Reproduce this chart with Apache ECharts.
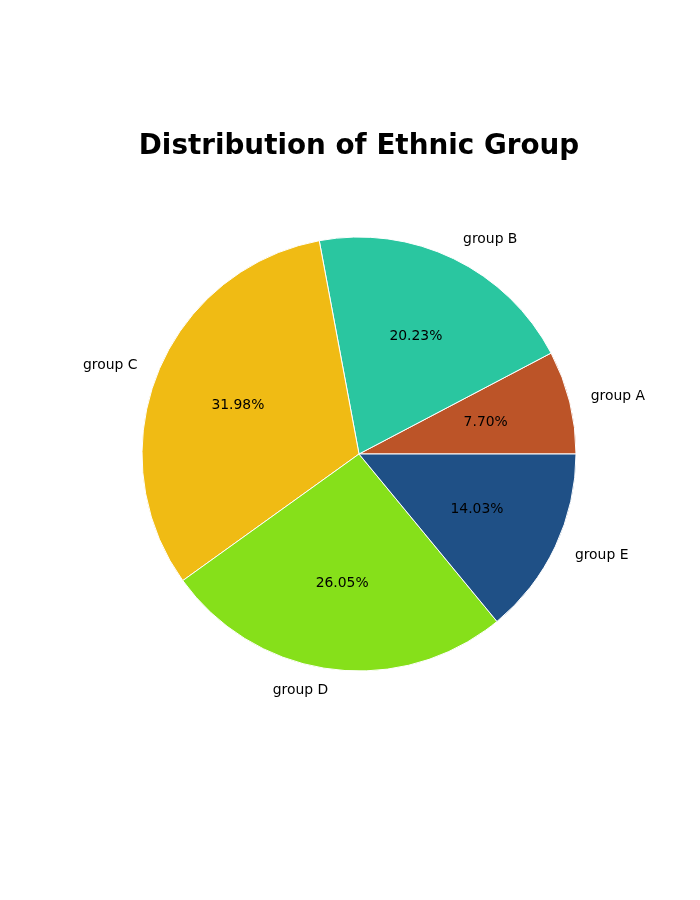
<!DOCTYPE html>
<html>
<head>
<meta charset="utf-8">
<script src="https://cdn.jsdelivr.net/npm/echarts@6/dist/echarts.min.js"></script>
<style>html,body{margin:0;padding:0;background:#fff}#c{width:700px;height:900px}</style>
</head>
<body>
<div id="c"></div>
<script>
const categories = ['group A', 'group B', 'group C', 'group D', 'group E'];
const percentages = [7.70, 20.23, 31.98, 26.05, 14.03];
const colors = ['#BC5428', '#2AC6A0', '#F0BB14', '#86E01A', '#1F5086'];

const R = 217;
const CX = 359, CY = 454;
const FONT = 'DejaVu Sans';

const chart = echarts.init(document.getElementById('c'), null, {renderer: 'canvas'});
const mainData = categories.map((c, i) => ({name: c, value: percentages[i], itemStyle: {color: colors[i]}}));
const pctData = categories.map((c, i) => ({name: c, value: percentages[i]}));

chart.setOption({
  animation: false,
  backgroundColor: '#ffffff',
  title: {
    text: 'Distribution of Ethnic Group',
    left: CX - 5,
    textAlign: 'center',
    top: 128,
    textStyle: {fontFamily: FONT, fontWeight: 'bold', fontSize: 27.8, color: '#000'}
  },
  series: [
    {
      type: 'pie',
      center: [CX, CY],
      radius: [0, R],
      startAngle: 0,
      clockwise: false,
      avoidLabelOverlap: false,
      silent: true,
      itemStyle: {borderColor: '#ffffff', borderWidth: 1},
      label: {
        show: true,
        position: 'outside',
        formatter: '{b}',
        fontFamily: FONT,
        fontSize: 13.9,
        color: '#000',
        distanceToLabelLine: 0
      },
      labelLine: {show: false, length: R * 0.1, length2: 0},
      data: mainData
    },
    {
      type: 'pie',
      center: [CX, CY],
      radius: [0, R * 1.175],
      startAngle: 0,
      clockwise: false,
      avoidLabelOverlap: false,
      silent: true,
      z: 5,
      itemStyle: {color: 'rgba(0,0,0,0)', borderWidth: 0},
      emphasis: {disabled: true},
      label: {
        show: true,
        position: 'inside',
        formatter: p => p.value.toFixed(2) + '%',
        fontFamily: FONT,
        fontSize: 13.9,
        color: '#000'
      },
      labelLine: {show: false},
      data: pctData
    }
  ]
});
</script>
</body>
</html>
